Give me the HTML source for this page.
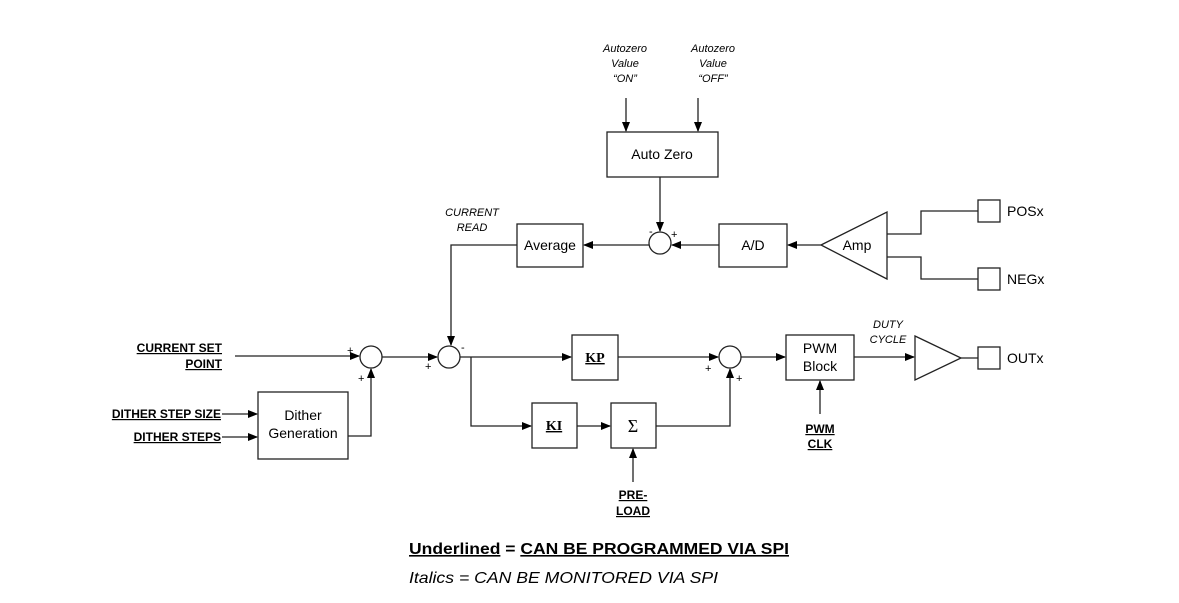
<!DOCTYPE html>
<html><head><meta charset="utf-8"><style>
html,body{margin:0;padding:0;background:#fff;}
svg{display:block;}
text{font-family:"Liberation Sans",Arial,sans-serif;fill:#000;}
.b{font-weight:bold;font-size:12px;text-decoration:underline;}
.i{font-style:italic;font-size:11px;}
.n{font-size:14px;}
.p{font-size:11px;}
</style></head><body>
<svg width="1179" height="603" viewBox="0 0 1179 603" xmlns="http://www.w3.org/2000/svg">
<defs><marker id="a" markerWidth="10" markerHeight="8" refX="9" refY="4" orient="auto" markerUnits="userSpaceOnUse"><path d="M0,0 L10,4 L0,8 z" fill="#000"/></marker></defs>
<g stroke="#222" stroke-width="1.3" fill="none">
<line x1="626" y1="98" x2="626" y2="131" marker-end="url(#a)"/>
<line x1="698" y1="98" x2="698" y2="131" marker-end="url(#a)"/>
<rect x="607" y="132" width="111" height="45" fill="#fff"/>
<line x1="660" y1="177" x2="660" y2="231" marker-end="url(#a)"/>
<circle cx="660" cy="243" r="11"/>
<rect x="719" y="224" width="68" height="43"/>
<line x1="719" y1="245" x2="672" y2="245" marker-end="url(#a)"/>
<polygon points="821,245 887,212 887,279"/>
<line x1="821" y1="245" x2="788" y2="245" marker-end="url(#a)"/>
<polyline points="887,234 921,234 921,211 978,211"/>
<polyline points="887,257 921,257 921,279 978,279"/>
<rect x="978" y="200" width="22" height="22"/>
<rect x="978" y="268" width="22" height="22"/>
<rect x="517" y="224" width="66" height="43"/>
<line x1="649" y1="245" x2="584" y2="245" marker-end="url(#a)"/>
<polyline points="517,245 451,245 451,345" marker-end="url(#a)"/>
<line x1="235" y1="356" x2="359" y2="356" marker-end="url(#a)"/>
<circle cx="371" cy="357" r="11"/>
<line x1="382" y1="357" x2="437" y2="357" marker-end="url(#a)"/>
<circle cx="449" cy="357" r="11"/>
<line x1="460" y1="357" x2="571" y2="357" marker-end="url(#a)"/>
<rect x="572" y="335" width="46" height="45"/>
<line x1="618" y1="357" x2="718" y2="357" marker-end="url(#a)"/>
<circle cx="730" cy="357" r="11"/>
<polyline points="471,357 471,426 531,426" marker-end="url(#a)"/>
<rect x="532" y="403" width="45" height="45"/>
<line x1="577" y1="426" x2="610" y2="426" marker-end="url(#a)"/>
<rect x="611" y="403" width="45" height="45"/>
<polyline points="656,426 730,426 730,369" marker-end="url(#a)"/>
<line x1="633" y1="482" x2="633" y2="449" marker-end="url(#a)"/>
<line x1="741" y1="357" x2="785" y2="357" marker-end="url(#a)"/>
<rect x="786" y="335" width="68" height="45"/>
<line x1="820" y1="414" x2="820" y2="381" marker-end="url(#a)"/>
<line x1="854" y1="357" x2="914" y2="357" marker-end="url(#a)"/>
<polygon points="915,336 961,358 915,380"/>
<line x1="961" y1="358" x2="978" y2="358"/>
<rect x="978" y="347" width="22" height="22"/>
<rect x="258" y="392" width="90" height="67"/>
<line x1="222" y1="414" x2="257" y2="414" marker-end="url(#a)"/>
<line x1="222" y1="437" x2="257" y2="437" marker-end="url(#a)"/>
<polyline points="348,436 371,436 371,369" marker-end="url(#a)"/>
</g>
<g>
<text class="i" x="625" y="52" text-anchor="middle">Autozero</text>
<text class="i" x="625" y="67" text-anchor="middle">Value</text>
<text class="i" x="625" y="82" text-anchor="middle">“ON”</text>
<text class="i" x="713" y="52" text-anchor="middle">Autozero</text>
<text class="i" x="713" y="67" text-anchor="middle">Value</text>
<text class="i" x="713" y="82" text-anchor="middle">“OFF”</text>
<text class="n" x="662" y="159" text-anchor="middle">Auto Zero</text>
<text class="n" x="753" y="250" text-anchor="middle">A/D</text>
<text class="n" x="857" y="250" text-anchor="middle">Amp</text>
<text class="n" x="1007" y="216">POSx</text>
<text class="n" x="1007" y="284">NEGx</text>
<text class="n" x="1007" y="363">OUTx</text>
<text class="n" x="550" y="250" text-anchor="middle">Average</text>
<text class="i" x="472" y="216" text-anchor="middle">CURRENT</text>
<text class="i" x="472" y="231" text-anchor="middle">READ</text>
<text class="p" x="649" y="235">-</text>
<text class="p" x="671" y="238">+</text>
<text class="b" x="222" y="352" text-anchor="end">CURRENT SET</text>
<text class="b" x="222" y="368" text-anchor="end">POINT</text>
<text class="b" x="221" y="418" text-anchor="end">DITHER STEP SIZE</text>
<text class="b" x="221" y="441" text-anchor="end">DITHER STEPS</text>
<text class="n" x="303" y="420" text-anchor="middle">Dither</text>
<text class="n" x="303" y="438" text-anchor="middle">Generation</text>
<text class="p" x="347" y="354">+</text>
<text class="p" x="358" y="382">+</text>
<text class="p" x="425" y="370">+</text>
<text class="p" x="461" y="351">-</text>
<text class="p" x="705" y="372">+</text>
<text x="736" y="382" class="p">+</text>
<text x="595" y="362" text-anchor="middle" style="font-family:'Liberation Serif',serif;font-weight:bold;font-size:14px;text-decoration:underline">KP</text>
<text x="554" y="430" text-anchor="middle" style="font-family:'Liberation Serif',serif;font-weight:bold;font-size:14px;text-decoration:underline">KI</text>
<text x="633" y="432" text-anchor="middle" style="font-family:'Liberation Serif',serif;font-size:18px">Σ</text>
<text class="b" x="633" y="499" text-anchor="middle">PRE-</text>
<text class="b" x="633" y="515" text-anchor="middle">LOAD</text>
<text class="n" x="820" y="353" text-anchor="middle">PWM</text>
<text class="n" x="820" y="371" text-anchor="middle">Block</text>
<text class="b" x="820" y="433" text-anchor="middle">PWM</text>
<text class="b" x="820" y="448" text-anchor="middle">CLK</text>
<text class="i" x="888" y="328" text-anchor="middle">DUTY</text>
<text class="i" x="888" y="343" text-anchor="middle">CYCLE</text>
<text x="409" y="554" textLength="380" lengthAdjust="spacingAndGlyphs" style="font-size:16px;font-weight:bold"><tspan text-decoration="underline">Underlined</tspan> = <tspan text-decoration="underline">CAN BE PROGRAMMED VIA SPI</tspan></text>
<text x="409" y="583" textLength="309" lengthAdjust="spacingAndGlyphs" style="font-size:16px;font-style:italic">Italics = CAN BE MONITORED VIA SPI</text>
</g>
</svg>
</body></html>
